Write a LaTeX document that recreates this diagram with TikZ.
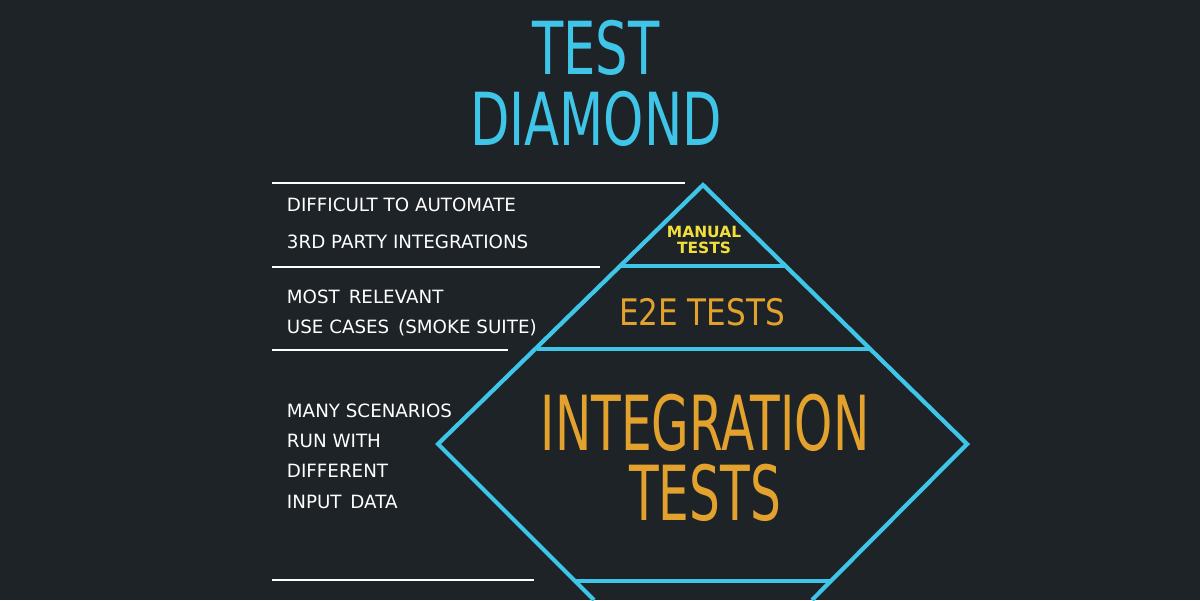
\documentclass[tikz,border=0pt]{standalone}
\usepackage{fontspec}
\setmainfont{DejaVu Sans}
\definecolor{bg}{HTML}{1E2328}
\definecolor{cy}{HTML}{3EC5E8}
\definecolor{org}{HTML}{E3A12E}
\definecolor{yl}{HTML}{F2E03A}
\begin{document}
\begin{tikzpicture}[x=0.025cm,y=-0.025cm,
  wl/.style={white,line width=1.3pt},
  dl/.style={cy,line width=3pt,line join=miter},
  lt/.style={white,anchor=west,font=\fontsize{13}{22}\selectfont,align=left},
  ttl/.style={cy,font=\fontsize{52}{52}\selectfont,xscale=0.7}]
\fill[bg] (0,0) rectangle (1200,600);
\useasboundingbox (0,0) rectangle (1200,600);
\node[ttl] (t1) at (596,48) {TEST};
\node[ttl] (t2) at (596,119) {DIAMOND};
% diamond
\coordinate (ap) at (703,185);
\coordinate (lv) at (438,444);
\coordinate (rv) at (967,444);
\coordinate (bl) at (594,600);
\coordinate (br) at (812,600);
\draw[dl] (bl) -- (lv) -- (ap) -- (rv) -- (br);
\coordinate (a1) at (620,266); \coordinate (b1) at (785,266);
\coordinate (a2) at (537,349); \coordinate (b2) at (869,349);
\coordinate (a3) at (574,581); \coordinate (b3) at (831,581);
\draw[dl] (a1) -- (b1); \draw[dl] (a2) -- (b2); \draw[dl] (a3) -- (b3);
% white lines
\coordinate (w1a) at (272,183); \coordinate (w1b) at (685,183);
\coordinate (w2a) at (272,267); \coordinate (w2b) at (600,267);
\coordinate (w3a) at (272,350); \coordinate (w3b) at (508,350);
\coordinate (w4a) at (272,580); \coordinate (w4b) at (534,580);
\draw[wl] (w1a)--(w1b); \draw[wl] (w2a)--(w2b); \draw[wl] (w3a)--(w3b); \draw[wl] (w4a)--(w4b);
% texts
\node[lt] (l1) at (282,205) {DIFFICULT TO AUTOMATE};
\node[lt] (l2) at (282,242) {3RD PARTY INTEGRATIONS};
\node[lt] (l3) at (282,297) {MOST\, RELEVANT};
\node[lt] (l4) at (282,328) {USE CASES\, (SMOKE SUITE)};
\node[lt,font=\fontsize{13}{21.5}\selectfont] (l5) at (282,456) {MANY SCENARIOS\\RUN WITH\\DIFFERENT\\INPUT\, DATA};
\node[yl,font=\fontsize{11}{12}\selectfont\bfseries,align=center] (m) at (704,240) {MANUAL\\TESTS};
\node[org,font=\fontsize{26}{26}\selectfont,xscale=0.85] (e) at (702,312) {E2E TESTS};
\node[org,font=\fontsize{54}{50}\selectfont,align=center,xscale=0.64] (it) at (705,458) {INTEGRATION\\TESTS};
\end{tikzpicture}
\end{document}
